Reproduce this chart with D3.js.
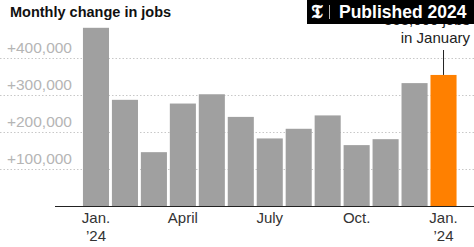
<!DOCTYPE html>
<html>
<head>
<meta charset="utf-8">
<script src="https://cdn.jsdelivr.net/npm/d3@7"></script>
<style>
  body { margin: 0; background: #fff; }
  svg { display: block; }
  text { font-family: "Liberation Sans", Arial, sans-serif; }
</style>
</head>
<body>
<svg id="chart"></svg>
<script>
// ======
// DATA
// ======
var months = ["2023-01", "2023-02", "2023-03", "2023-04", "2023-05", "2023-06", "2023-07",
  "2023-08", "2023-09", "2023-10", "2023-11", "2023-12", "2024-01"];
var jobs = [480000, 286000, 145000, 276000, 301000, 240000, 182000, 208000, 244000, 164000, 180000, 331000, 353000];
var yTicks = [100000, 200000, 300000, 400000];
var xLabels = [
  { month: "2023-01", lines: ["Jan.", "\u201924"] },
  { month: "2023-04", lines: ["April"] },
  { month: "2023-07", lines: ["July"] },
  { month: "2023-10", lines: ["Oct."] },
  { month: "2024-01", lines: ["Jan.", "\u201924"] }
];
var highlight = "2024-01";

// ========
// LAYOUT
// ========
var width = 474, height = 247;
var svg = d3.select("#chart").attr("width", width).attr("height", height);

var x = d3.scaleBand()
  .domain(months)
  .range([81.5, 458])
  .paddingInner(0.1)
  .paddingOuter(0.05);

var y = d3.scaleLinear()
  .domain([0, 400000])
  .range([206, 57.5]);

// gridlines
svg.append("g")
  .selectAll("line")
  .data(yTicks)
  .enter().append("line")
  .attr("x1", 0)
  .attr("x2", width)
  .attr("y1", function (d) { return Math.round(y(d)) + 0.5; })
  .attr("y2", function (d) { return Math.round(y(d)) + 0.5; })
  .attr("stroke", "#c8c8c8")
  .attr("stroke-width", 1)
  .attr("stroke-dasharray", "1.5,2");

// y labels
svg.append("g")
  .selectAll("text")
  .data(yTicks)
  .enter().append("text")
  .attr("x", 72)
  .attr("y", function (d) { return y(d) - 5; })
  .attr("text-anchor", "end")
  .attr("font-size", 15.5)
  .attr("fill", "#b5b5b5")
  .text(function (d) { return "+" + d3.format(",")(d); });

// bars
svg.append("g")
  .selectAll("rect")
  .data(months)
  .enter().append("rect")
  .attr("x", function (d) { return x(d); })
  .attr("width", x.bandwidth())
  .attr("y", function (d, i) { return y(jobs[i]); })
  .attr("height", function (d, i) { return y(0) - y(jobs[i]); })
  .attr("fill", function (d) { return d === highlight ? "#ff8000" : "#a0a0a0"; });

// baseline
svg.append("line")
  .attr("x1", 55)
  .attr("x2", width)
  .attr("y1", y(0) + 0.5)
  .attr("y2", y(0) + 0.5)
  .attr("stroke", "#222")
  .attr("stroke-width", 1.2);

// x labels
var xl = svg.append("g")
  .selectAll("text")
  .data(xLabels)
  .enter().append("text")
  .attr("x", function (d) { return x(d.month) + x.bandwidth() / 2; })
  .attr("y", 223)
  .attr("text-anchor", "middle")
  .attr("font-size", 15)
  .attr("fill", "#333");
xl.selectAll("tspan")
  .data(function (d) { return d.lines; })
  .enter().append("tspan")
  .attr("x", function () { var p = d3.select(this.parentNode).datum(); return x(p.month) + x.bandwidth() / 2; })
  .attr("dy", function (d, i) { return i === 0 ? 0 : 18; })
  .text(function (d) { return d; });

// annotation (top line sits behind the badge, as in the original)
var hiX = x(highlight) + x.bandwidth() / 2;
var hiVal = jobs[months.indexOf(highlight)];
svg.append("line")
  .attr("x1", hiX)
  .attr("x2", hiX)
  .attr("y1", 50)
  .attr("y2", y(hiVal))
  .attr("stroke", "#222")
  .attr("stroke-width", 1);
svg.append("text")
  .attr("x", 470)
  .attr("y", 25)
  .attr("text-anchor", "end")
  .attr("font-size", 15)
  .attr("fill", "#222")
  .text(d3.format(",")(hiVal) + " jobs");
svg.append("text")
  .attr("x", 470)
  .attr("y", 43)
  .attr("text-anchor", "end")
  .attr("font-size", 15)
  .attr("fill", "#222")
  .text("in January");

// title
svg.append("text")
  .attr("x", 10)
  .attr("y", 17)
  .attr("font-size", 14.5)
  .attr("font-weight", "bold")
  .attr("fill", "#111")
  .text("Monthly change in jobs");

// badge
var badge = svg.append("g");
badge.append("rect")
  .attr("x", 307)
  .attr("y", 0)
  .attr("width", width - 307)
  .attr("height", 24)
  .attr("fill", "#000");
badge.append("text")
  .attr("x", 311)
  .attr("y", 18)
  .attr("font-family", "DejaVu Serif, serif")
  .attr("font-size", 19)
  .attr("font-weight", "bold")
  .attr("fill", "#fff")
  .text("\uD835\uDD7F");
badge.append("line")
  .attr("x1", 329.5)
  .attr("x2", 329.5)
  .attr("y1", 5)
  .attr("y2", 19)
  .attr("stroke", "#bbb")
  .attr("stroke-width", 1);
badge.append("text")
  .attr("x", 339)
  .attr("y", 18)
  .attr("font-size", 17.5)
  .attr("font-weight", "bold")
  .attr("fill", "#fff")
  .text("Published 2024");
</script>
</body>
</html>
